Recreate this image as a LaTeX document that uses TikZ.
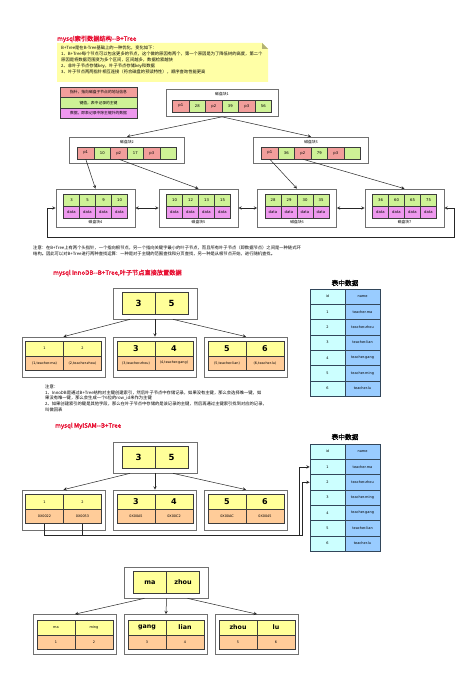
\documentclass[tikz,border=0pt]{standalone}
\usepackage{fontspec}
\setmainfont{DejaVu Sans}
\newfontfamily\cjk[AutoFakeBold=2]{Noto Sans CJK SC}
\usepackage{tikz}
\usetikzlibrary{arrows, positioning, calc}
\definecolor{notey}{RGB}{255,255,166}
\definecolor{titlered}{RGB}{232,18,52}
\definecolor{ptrred}{RGB}{242,158,155}
\definecolor{keygreen}{RGB}{206,242,150}
\definecolor{datapink}{RGB}{238,152,238}
\definecolor{celly}{RGB}{255,255,153}
\definecolor{cello}{RGB}{255,204,153}
\definecolor{tabcyan}{RGB}{204,255,255}
\definecolor{tabblue}{RGB}{153,204,255}
\definecolor{tabline}{RGB}{50,70,90}
\definecolor{boxgray}{RGB}{112,112,112}
\definecolor{celldark}{RGB}{60,60,60}

\begin{document}
\begin{tikzpicture}[x=1pt, y=-1pt,
    box/.style={rectangle, draw=boxgray, line width=0.7pt, fill=white, inner sep=0pt},
    rootbox/.style={box, minimum width=112pt, minimum height=27pt},
    midbox/.style={box, minimum width=115pt, minimum height=26pt},
    leafbox/.style={box, minimum width=79pt, minimum height=38pt},
    treebox/.style={box, minimum width=84pt, minimum height=31pt},
    tleafbox/.style={box, minimum width=83pt, minimum height=40pt},
    cell/.style={rectangle, draw=celldark, line width=0.4pt, inner sep=0pt, font=\fontsize{3.8}{4}\selectfont},
    ptr/.style={cell, fill=ptrred, minimum width=16.5pt, minimum height=12pt},
    key/.style={cell, fill=keygreen, minimum width=16.5pt, minimum height=12pt},
    lkey/.style={cell, fill=keygreen, minimum width=16pt, minimum height=12pt},
    ldata/.style={cell, fill=datapink, minimum width=16pt, minimum height=12pt},
    legend/.style={cell, minimum width=77pt, minimum height=10.5pt, font=\cjk\fontsize{3.8}{4}\selectfont},
    disklbl/.style={inner sep=0pt, font=\cjk\fontsize{3.8}{4}\selectfont},
    ybig/.style={cell, fill=celly, minimum width=33pt, minimum height=22pt, font=\bfseries\fontsize{8.5}{9}\selectfont},
    ywide/.style={ybig, font=\bfseries\fontsize{6.5}{7}\selectfont},
    lftop/.style={cell, fill=celly, minimum width=38pt, minimum height=15pt, font=\bfseries\fontsize{8}{8}\selectfont},
    lfword/.style={lftop, font=\bfseries\fontsize{6.3}{7}\selectfont},
    lftopsm/.style={lftop, font=\fontsize{3.5}{4}\selectfont},
    lfbot/.style={cell, fill=cello, minimum width=38pt, minimum height=14pt, font=\fontsize{3.4}{4}\selectfont},
    tid/.style={rectangle, draw=tabline, line width=0.6pt, fill=tabcyan, minimum width=35pt, minimum height=15.3pt, inner sep=0pt, font=\fontsize{3.5}{4}\selectfont},
    tname/.style={tid, fill=tabblue},
    tabtitle/.style={inner sep=0pt, font=\cjk\bfseries\fontsize{6.7}{7}\selectfont},
    title/.style={anchor=west, inner sep=0pt, text=titlered, font=\cjk\bfseries\fontsize{6.2}{7}\selectfont},
    note/.style={anchor=north west, inner sep=0pt, align=left, font=\cjk\fontsize{4.3}{6}\selectfont},
    arrow/.style={->, >=stealth, line width=0.5pt, black!85},
    dblarrow/.style={<->, >=stealth, line width=0.5pt, black!85},
]
\fill[white] (0,0) rectangle (474,674);
\useasboundingbox (0,0) rectangle (474,674);

% ---- B+Tree ----
\node[title] (bptitle) at (57,39) {mysql索引数据结构--B+Tree};
\fill[notey] (57,43) -- (262,43) -- (268,49) -- (268,82) -- (57,82) -- cycle;
\fill[notey!70!black] (262,43) -- (262,49) -- (268,49) -- cycle;
\node[note] (bpnote) at (61,45.5) {B+Tree是在B-Tree基础上的一种优化，变化如下：\\
1、B+Tree每个节点可以包含更多的节点，这个做的原因有两个，第一个原因是为了降低树的高度，第二个\\
原因是将数据范围变为多个区间，区间越多，数据检索越快\\
2、非叶子节点存储key，叶子节点存储key和数据\\
3、叶子节点两两指针相互连接（符合磁盘的预读特性），顺序查询性能更高};

\node[legend, fill=ptrred] (lgptr) at (98.5,92.25) {指针，指向磁盘子节点的地址信息};
\node[legend, fill=keygreen] (lgkey) at (98.5,102.75) {键值，表中记录的主键};
\node[legend, fill=datapink] (lgdata) at (98.5,113.25) {数据，即表记录中除主键外的数据};

\node[rootbox] (disk1) at (222,103) {};
\node[disklbl] (disk1lbl) at (222,94.5) {磁盘块1};
\node[ptr] (d1p1) at (180.75,106) {p1};
\node[key] (d1k1) at (197.25,106) {28};
\node[ptr] (d1p2) at (213.75,106) {p2};
\node[key] (d1k2) at (230.25,106) {39};
\node[ptr] (d1p3) at (246.75,106) {p3};
\node[key] (d1k3) at (263.25,106) {56};

\node[midbox] (disk2) at (127,150) {};
\node[disklbl] (disk2lbl) at (127,142) {磁盘块2};
\node[ptr] (d2p1) at (85.75,153) {p1};
\node[key] (d2k1) at (102.25,153) {10};
\node[ptr] (d2p2) at (118.75,153) {p2};
\node[key] (d2k2) at (135.25,153) {17};
\node[ptr] (d2p3) at (151.75,153) {p3};
\node[key] (d2k3) at (168.25,153) {};

\node[midbox] (disk3) at (311,150) {};
\node[disklbl] (disk3lbl) at (311,142) {磁盘块3};
\node[ptr] (d3p1) at (269.75,153) {p1};
\node[key] (d3k1) at (286.25,153) {36};
\node[ptr] (d3p2) at (302.75,153) {p2};
\node[key] (d3k2) at (319.25,153) {79};
\node[ptr] (d3p3) at (335.75,153) {p3};
\node[key] (d3k3) at (352.25,153) {};

\node[leafbox] (disk4) at (95.5,208) {};
\node[lkey] (d4k1) at (71.5,200) {3};
\node[lkey] (d4k2) at (87.5,200) {5};
\node[lkey] (d4k3) at (103.5,200) {9};
\node[lkey] (d4k4) at (119.5,200) {10};
\node[ldata] (d4d1) at (71.5,212) {data};
\node[ldata] (d4d2) at (87.5,212) {data};
\node[ldata] (d4d3) at (103.5,212) {data};
\node[ldata] (d4d4) at (119.5,212) {data};
\node[disklbl] (disk4lbl) at (95.5,222.5) {磁盘块4};

\node[leafbox] (disk5) at (198.5,208) {};
\node[lkey] (d5k1) at (174.5,200) {10};
\node[lkey] (d5k2) at (190.5,200) {12};
\node[lkey] (d5k3) at (206.5,200) {13};
\node[lkey] (d5k4) at (222.5,200) {15};
\node[ldata] (d5d1) at (174.5,212) {data};
\node[ldata] (d5d2) at (190.5,212) {data};
\node[ldata] (d5d3) at (206.5,212) {data};
\node[ldata] (d5d4) at (222.5,212) {data};
\node[disklbl] (disk5lbl) at (198.5,222.5) {磁盘块5};

\node[leafbox] (disk6) at (297,208) {};
\node[lkey] (d6k1) at (273,200) {28};
\node[lkey] (d6k2) at (289,200) {29};
\node[lkey] (d6k3) at (305,200) {30};
\node[lkey] (d6k4) at (321,200) {35};
\node[ldata] (d6d1) at (273,212) {data};
\node[ldata] (d6d2) at (289,212) {data};
\node[ldata] (d6d3) at (305,212) {data};
\node[ldata] (d6d4) at (321,212) {data};
\node[disklbl] (disk6lbl) at (297,222.5) {磁盘块6};

\node[leafbox] (disk7) at (404.5,208) {};
\node[lkey] (d7k1) at (380.5,200) {36};
\node[lkey] (d7k2) at (396.5,200) {60};
\node[lkey] (d7k3) at (412.5,200) {65};
\node[lkey] (d7k4) at (428.5,200) {75};
\node[ldata] (d7d1) at (380.5,212) {data};
\node[ldata] (d7d2) at (396.5,212) {data};
\node[ldata] (d7d3) at (412.5,212) {data};
\node[ldata] (d7d4) at (428.5,212) {data};
\node[disklbl] (disk7lbl) at (404.5,222.5) {磁盘块7};

\draw[arrow] (disk1.south) -- (disk2.north);
\draw[arrow] (disk1.south) -- (disk3.north);
\draw[arrow] (d2p1.south) -- (disk4.north);
\draw[arrow] (d2p2.south) -- (disk5.north);
\draw[arrow] (d3p1.south) -- (disk6.north);
\draw[arrow] (d3p2.south) -- (disk7.north);
\draw[dblarrow] (disk4.east) -- (disk5.west);
\draw[dblarrow] (disk5.east) -- (disk6.west);
\draw[dblarrow] (disk6.east) -- (disk7.west);
\coordinate (loopL) at (47,237);
\coordinate (loopR) at (454,237);
\draw[dblarrow] (disk4.west) -| (loopL) -- (loopR) |- (disk7.east);

\node[note] (bpnote2) at (33,245.5) {注意：在B+Tree上有两个头指针，一个指向根节点，另一个指向关键字最小的叶子节点，而且所有叶子节点（即数据节点）之间是一种链式环\\
结构。因此可以对B+Tree进行两种查找运算：一种是对于主键的范围查找和分页查找，另一种是从根节点开始，进行随机查找。};

% ---- InnoDB ----
\node[title] (innotitle) at (53,273) {mysql InnoDB--B+Tree,叶子节点直接放置数据};
\node[treebox] (innoroot) at (155,303.5) {};
\node[ybig] (innor1) at (138.5,303.5) {3};
\node[ybig] (innor2) at (171.5,303.5) {5};

\node[tleafbox] (innoA) at (63.5,357) {};
\node[lftopsm] (innoA1) at (44.5,348.5) {1};
\node[lftopsm] (innoA2) at (82.5,348.5) {2};
\node[lfbot] (innoA3) at (44.5,363) {(1,teacher.ma)};
\node[lfbot] (innoA4) at (82.5,363) {(2,teacher.zhou)};

\node[tleafbox] (innoB) at (155,357) {};
\node[lftop] (innoB1) at (136,348.5) {3};
\node[lftop] (innoB2) at (174,348.5) {4};
\node[lfbot] (innoB3) at (136,363) {(3,teacher.zhou)};
\node[lfbot] (innoB4) at (174,363) {(4,teacher.gang)};

\node[tleafbox] (innoC) at (246,357) {};
\node[lftop] (innoC1) at (227,348.5) {5};
\node[lftop] (innoC2) at (265,348.5) {6};
\node[lfbot] (innoC3) at (227,363) {(5,teacher.lian)};
\node[lfbot] (innoC4) at (265,363) {(6,teacher.lu)};

\draw[arrow] ([xshift=-25pt]innoroot.south) -- (innoA.north);
\draw[arrow] (innoroot.south) -- (innoB.north);
\draw[arrow] ([xshift=18pt]innoroot.south) -- (innoC.north);

\node[tabtitle] (tab1title) at (345,283) {表中数据};
\node[tid] (t1h1) at (327.5,296.65) {id};
\node[tname] (t1h2) at (362.5,296.65) {name};
\node[tid] (t1r1a) at (327.5,311.95) {1};
\node[tname] (t1r1b) at (362.5,311.95) {teacher.ma};
\node[tid] (t1r2a) at (327.5,327.25) {2};
\node[tname] (t1r2b) at (362.5,327.25) {teacher.zhou};
\node[tid] (t1r3a) at (327.5,342.55) {3};
\node[tname] (t1r3b) at (362.5,342.55) {teacher.lian};
\node[tid] (t1r4a) at (327.5,357.85) {4};
\node[tname] (t1r4b) at (362.5,357.85) {teacher.gang};
\node[tid] (t1r5a) at (327.5,373.15) {5};
\node[tname] (t1r5b) at (362.5,373.15) {teacher.ming};
\node[tid] (t1r6a) at (327.5,388.45) {6};
\node[tname] (t1r6b) at (362.5,388.45) {teacher.lu};

\node[note, font=\cjk\fontsize{4.3}{5.8}\selectfont] (innonote) at (45,384.5) {注意：\\
1、InnoDB是通过B+Tree结构对主键创建索引，然后叶子节点中存储记录，如果没有主键，那么会选择唯一键，如\\
果没有唯一键，那么会生成一个6位的row\_id来作为主键\\
2、如果创建索引的键是其他字段，那么在叶子节点中存储的是该记录的主键，然后再通过主键索引找到对应的记录，\\
叫做回表};

% ---- MyISAM ----
\node[title] (myititle) at (55,426) {mysql MyISAM--B+Tree};
\node[treebox] (myiroot) at (155,457.5) {};
\node[ybig] (myir1) at (138.5,457.5) {3};
\node[ybig] (myir2) at (171.5,457.5) {5};

\node[tleafbox] (myiA) at (63.5,510) {};
\node[lftopsm] (myiA1) at (44.5,502) {1};
\node[lftopsm] (myiA2) at (82.5,502) {2};
\node[lfbot] (myiA3) at (44.5,516.5) {0X0022};
\node[lfbot] (myiA4) at (82.5,516.5) {0X0053};

\node[tleafbox] (myiB) at (155,510) {};
\node[lftop] (myiB1) at (136,502) {3};
\node[lftop] (myiB2) at (174,502) {4};
\node[lfbot] (myiB3) at (136,516.5) {0X00A5};
\node[lfbot] (myiB4) at (174,516.5) {0X00C2};

\node[tleafbox] (myiC) at (246,510) {};
\node[lftop] (myiC1) at (227,502) {5};
\node[lftop] (myiC2) at (265,502) {6};
\node[lfbot] (myiC3) at (227,516.5) {0X00AC};
\node[lfbot] (myiC4) at (265,516.5) {0X0045};

\draw[arrow] ([xshift=-25pt]myiroot.south) -- (myiA.north);
\draw[arrow] (myiroot.south) -- (myiB.north);
\draw[arrow] ([xshift=18pt]myiroot.south) -- (myiC.north);

\node[tabtitle] (tab2title) at (345,437) {表中数据};
\node[tid] (t2h1) at (327.5,451.65) {id};
\node[tname] (t2h2) at (362.5,451.65) {name};
\node[tid] (t2r1a) at (327.5,466.95) {1};
\node[tname] (t2r1b) at (362.5,466.95) {teacher.ma};
\node[tid] (t2r2a) at (327.5,482.25) {2};
\node[tname] (t2r2b) at (362.5,482.25) {teacher.zhou};
\node[tid] (t2r3a) at (327.5,497.55) {3};
\node[tname] (t2r3b) at (362.5,497.55) {teacher.ming};
\node[tid] (t2r4a) at (327.5,512.85) {4};
\node[tname] (t2r4b) at (362.5,512.85) {teacher.gang};
\node[tid] (t2r5a) at (327.5,528.15) {5};
\node[tname] (t2r5b) at (362.5,528.15) {teacher.lian};
\node[tid] (t2r6a) at (327.5,543.45) {6};
\node[tname] (t2r6b) at (362.5,543.45) {teacher.lu};

\coordinate (busA) at (299,535);
\coordinate (busB) at (302,535);
\draw[arrow] (myiA3.south) |- (busA) |- (t2r1a.west);
\draw[arrow] (myiA4.south) |- (busB) |- (t2r2a.west);

% ---- name index ----
\node[treebox] (nameroot) at (166.5,582.5) {};
\node[ywide] (namer1) at (150,582.5) {ma};
\node[ywide] (namer2) at (183,582.5) {zhou};

\node[tleafbox] (nameA) at (75,634.5) {};
\node[lftopsm] (nameA1) at (56,627.5) {ma};
\node[lftopsm] (nameA2) at (94,627.5) {ming};
\node[lfbot] (nameA3) at (56,642) {1};
\node[lfbot] (nameA4) at (94,642) {2};

\node[tleafbox] (nameB) at (166,634.5) {};
\node[lfword] (nameB1) at (147,627.5) {gang};
\node[lfword] (nameB2) at (185,627.5) {lian};
\node[lfbot] (nameB3) at (147,642) {3};
\node[lfbot] (nameB4) at (185,642) {4};

\node[tleafbox] (nameC) at (257,634.5) {};
\node[lfword] (nameC1) at (238,627.5) {zhou};
\node[lfword] (nameC2) at (276,627.5) {lu};
\node[lfbot] (nameC3) at (238,642) {5};
\node[lfbot] (nameC4) at (276,642) {6};

\draw[arrow] ([xshift=-22pt]nameroot.south) -- (nameA.north);
\draw[arrow] (nameroot.south) -- (nameB.north);
\draw[arrow] ([xshift=21pt]nameroot.south) -- (nameC.north);
\end{tikzpicture}
\end{document}
